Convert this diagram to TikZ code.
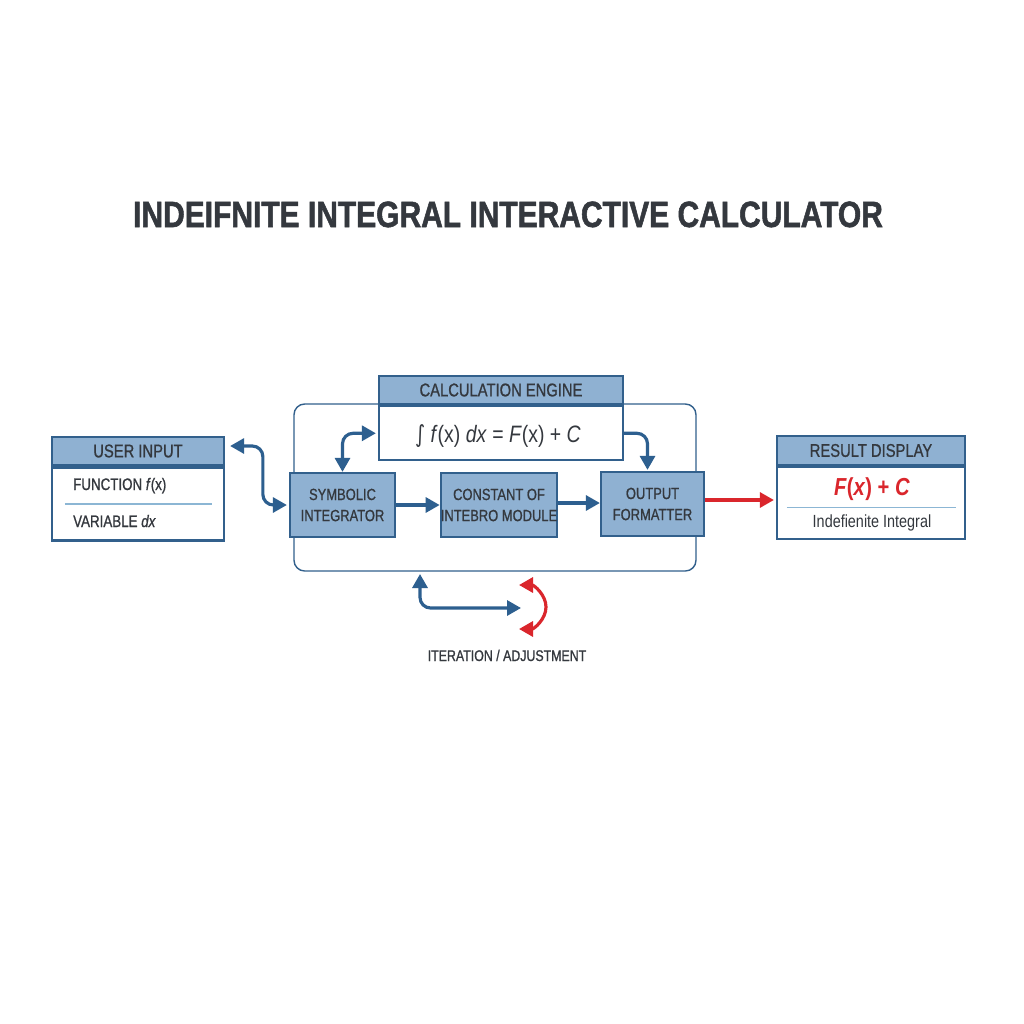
\documentclass[tikz,border=0pt]{standalone}
\usepackage{fontspec}
\setmainfont{Liberation Sans}[FakeStretch=0.82]
\newfontfamily\medfont{Liberation Sans}[FakeStretch=0.8, FakeBold=0.9]
\newfontfamily\heavyfont{Liberation Sans}[FakeStretch=0.82, FakeBold=1.4]
\newfontfamily\symfont{DejaVu Sans}[FakeStretch=0.82]
\usetikzlibrary{arrows.meta,positioning,calc}

\definecolor{boxblue}{RGB}{143,177,210}
\definecolor{edgeblue}{RGB}{50,96,140}
\definecolor{arrowblue}{RGB}{45,95,143}
\definecolor{ruleblue}{RGB}{140,182,212}
\definecolor{calcred}{RGB}{218,38,44}
\definecolor{inkgray}{RGB}{52,56,62}

\begin{document}
\begin{tikzpicture}[
  x=0.02cm, y=-0.02cm,
  font=\fontsize{9.5}{11}\selectfont,
  text=inkgray,
  >={Triangle[length=2.8mm,width=3mm]},
  head/.style={
    draw=edgeblue,
    line width=1.3pt,
    fill=boxblue,
    minimum height=0.57cm,
    inner sep=0pt,
    font=\medfont\fontsize{10.5}{12}\selectfont
  },
  body/.style={
    draw=edgeblue,
    line width=1.3pt,
    fill=white,
    inner sep=0pt
  },
  unit/.style={
    draw=edgeblue,
    line width=1.3pt,
    fill=boxblue,
    align=center,
    minimum height=1.28cm,
    inner sep=0pt,
    font=\medfont\fontsize{9.2}{12}\selectfont
  },
  enginebox/.style={
    draw=edgeblue,
    line width=0.8pt,
    rounded corners=6pt,
    inner sep=0pt
  },
  seprule/.style={draw=ruleblue, line width=0.7pt},
  flow/.style={->, line width=1.8pt, draw=arrowblue, rounded corners=6pt},
  dflow/.style={<->, line width=1.8pt, draw=arrowblue, rounded corners=6pt},
  hot/.style={->, line width=1.8pt, draw=calcred},
  hotloop/.style={<->, line width=1.8pt, draw=calcred}
]

\fill[white] (0,0) rectangle (1024,1024);
\useasboundingbox (0,0) rectangle (1024,1024);

% Title
\node[anchor=base, font=\heavyfont\fontsize{20.8}{24}\selectfont\bfseries] (title) at (508,227)
  {INDEIFNITE INTEGRAL INTERACTIVE CALCULATOR};

% User input
\node[head, minimum width=3.44cm] (inputhead) at (138,451) {USER INPUT};
\node[body, minimum width=3.44cm, minimum height=1.46cm, below=0pt of inputhead] (inputbody) {};
\node[anchor=base west, font=\medfont\fontsize{9.5}{11}\selectfont] (infunc) at (67,490) {FUNCTION \textit{f}(x)};
\node[anchor=base west, font=\medfont\fontsize{9.5}{11}\selectfont] (invar) at (67,527) {VARIABLE \textit{dx}};
\draw[seprule] ([shift={(14,0)}]inputbody.west) -- ([shift={(-13,0)}]inputbody.east);

% Calculation engine
\node[enginebox, minimum width=8.04cm, minimum height=3.34cm] (engine) at (495,487.5) {};
\node[head, minimum width=4.88cm, minimum height=0.56cm] (enginehead) at (501,390) {CALCULATION ENGINE};
\node[body, minimum width=4.88cm, minimum height=1.08cm, below=0pt of enginehead] (enginebody) {};
\node[anchor=base, font=\fontsize{13.5}{15}\selectfont] (formula) at (498,442)
  {{\symfont ∫} \textit{f}(x) \textit{dx} = \textit{F}(x) + \textit{C}};

\node[unit, minimum width=2.1cm] (symb) at (342.5,505) {SYMBOLIC\\INTEGRATOR};
\node[unit, minimum width=2.32cm] (const) at (499,505) {CONSTANT OF\\INTEBRO MODULE};
\node[unit, minimum width=2.06cm] (outfmt) at (652.5,504) {OUTPUT\\FORMATTER};

% Result display
\node[head, minimum width=3.76cm, minimum height=0.58cm] (resulthead) at (871,450.5) {RESULT DISPLAY};
\node[body, minimum width=3.76cm, minimum height=1.44cm, below=0pt of resulthead] (resultbody) {};
\node[anchor=base, text=calcred, font=\fontsize{14}{15}\selectfont\bfseries] (resultf) at (872,495)
  {\textit{F}(\textit{x}) + \textit{C}};
\draw[seprule] ([shift={(11,4)}]resultbody.west) -- ([shift={(-10,4)}]resultbody.east);
\node[anchor=base, font=\fontsize{10}{12}\selectfont] (resultname) at (872,527) {Indefienite Integral};

% Flow arrows
\draw[dflow] ([shift={(5,-5)}]inputhead.east) -| ([shift={(-26,0)}]symb.west) -- ([shift={(-2,0)}]symb.west);
\draw[dflow] (symb.north) |- ([shift={(-2,0)}]enginebody.west);
\draw[flow] (enginebody.east) -| ([shift={(-5,-1)}]outfmt.north);
\draw[flow] (symb) -- (const);
\draw[flow] ([shift={(0,-2)}]const.east) -- ([shift={(0,-1)}]outfmt.west);
\coordinate (redstart) at ([shift={(0,-4)}]outfmt.east);
\draw[hot] (redstart) -- ([shift={(-2,0)}]redstart -| resultbody.west);

% Iteration
\coordinate (iterup) at (420,574);
\coordinate (iterright) at (521,608);
\coordinate (itertop) at (519,585);
\draw[dflow] (iterup) |- (iterright);
\draw[hotloop] (itertop) arc[start angle=-90, end angle=90, x radius=27, y radius=22];
\node[anchor=base, font=\medfont\fontsize{8.8}{10}\selectfont] (iterlabel) at (507,661) {ITERATION / ADJUSTMENT};

\end{tikzpicture}
\end{document}
